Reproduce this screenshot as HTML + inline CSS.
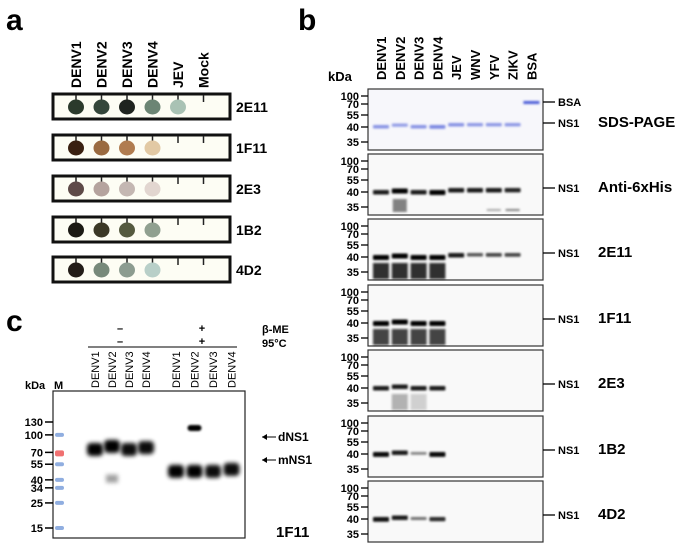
<!DOCTYPE html>
<html><head><meta charset="utf-8"><style>
body{margin:0;background:#fff}
svg{display:block;font-family:"Liberation Sans",sans-serif}
</style></head><body>
<svg id="fig" width="685" height="544" viewBox="0 0 685 544">
<defs>
<filter id="bl" x="-50%" y="-200%" width="200%" height="500%"><feGaussianBlur stdDeviation="1.1"/></filter>
<filter id="bl2" x="-50%" y="-100%" width="200%" height="300%"><feGaussianBlur stdDeviation="2"/></filter>
</defs>
<g id="pa"></g>
<g id="pb"></g>
<g id="pc"></g>
</svg>
<script>
const NS='http://www.w3.org/2000/svg';
function el(p,t,a,txt){const e=document.createElementNS(NS,t);for(const k in a)e.setAttribute(k,a[k]);if(txt!=null)e.textContent=txt;p.appendChild(e);return e;}
// ---- data ----
const dotLanes=['DENV1','DENV2','DENV3','DENV4','JEV','Mock'];
const dotAbs=['2E11','1F11','2E3','1B2','4D2'];
const dotColors=[
 ['#2b3a2c','#34463a','#1f241f','#6c8574','#a9c2b4',null],
 ['#3a2010','#9a6a40','#b07c50','#e2c9a4',null,null],
 ['#5e4a48','#b5a39e','#c4b7b2','#e2d6d0',null,null],
 ['#1c1a14','#3b3826','#555a40','#90a090',null,null],
 ['#231d18','#77897a','#8c9c90','#b8cfc8',null,null]];
const gelLanes=['DENV1','DENV2','DENV3','DENV4','JEV','WNV','YFV','ZIKV','BSA'];
const gelPanels=['SDS-PAGE','Anti-6xHis','2E11','1F11','2E3','1B2','4D2'];
const kdaTicks=['100','70','55','40','35'];
const ns1=[
 [0.5,0.4,0.5,0.6,0.5,0.45,0.45,0.45,0],
 [0.85,1,0.85,1,0.85,0.85,0.85,0.8,0],
 [1,1,1,1,0.85,0.5,0.6,0.6,0],
 [1,1,1,1,0,0,0,0,0],
 [0.85,0.85,0.85,0.85,0,0,0,0,0],
 [0.95,0.85,0.25,0.95,0,0,0,0,0],
 [0.9,0.85,0.35,0.75,0,0,0,0,0]];
const smear=[
 [0,0,0,0,0,0,0,0,0],
 [0,0.6,0,0,0,0,0.4,0.6,0],
 [1,1,1,1,0,0,0,0,0],
 [0.9,0.9,0.9,0.9,0,0,0,0,0],
 [0,0.35,0.2,0,0,0,0,0,0],
 [0,0,0,0,0,0,0,0,0],
 [0,0,0,0,0,0,0,0,0]];
const cLanes=['DENV1','DENV2','DENV3','DENV4','DENV1','DENV2','DENV3','DENV4'];
const cMarkers=['130','100','70','55','40','34','25','15'];
const cMarkerKda=[130,100,70,55,40,34,25,15];
const cBandKda=[75,80,75,78,48,48,48,50];
const cBandInt=[1,1,0.95,0.95,1,1,0.95,0.95];

// ---- panel a ----
const pa=document.getElementById('pa');
let t=el(pa,'text',{x:6,y:30,'font-size':30,'font-weight':'bold'},'a');

const ax=i=>76+i*25.5;
dotLanes.forEach((n,i)=>{const tt=el(pa,'text',{transform:`translate(${ax(i)+5},88) rotate(-90)`,'font-size':14,'font-weight':'bold'},n);
 });
const rowY=[94,135,176,217,257];
dotAbs.forEach((ab,r)=>{
 const g=el(pa,'g',{});
 el(g,'rect',{x:53,y:rowY[r],width:177,height:25,fill:'#fdfdf4',stroke:'#111','stroke-width':3});
 dotColors[r].forEach((c,i)=>{
  el(g,'line',{x1:ax(i),y1:rowY[r]+1,x2:ax(i),y2:rowY[r]+8,stroke:'#222','stroke-width':1.5});
  if(c)el(g,'ellipse',{cx:ax(i),cy:rowY[r]+13,rx:8,ry:7.5,fill:c});
 });
 const l=el(pa,'text',{x:236,y:rowY[r]+18,'font-size':14,'font-weight':'bold'},ab);
 
});

// ---- panel b ----
const pb=document.getElementById('pb');
t=el(pb,'text',{x:298,y:30,'font-size':30,'font-weight':'bold'},'b');

t=el(pb,'text',{x:328,y:81,'font-size':13,'font-weight':'bold'},'kDa');

const bx=i=>381+i*18.8;
gelLanes.forEach((n,i)=>{const tt=el(pb,'text',{transform:`translate(${bx(i)+5},80) rotate(-90)`,'font-size':13,'font-weight':'bold'},n);
 });
const pTop=[89,154,219,285,350,416,481];
const tickOff=[7,15,26,38,53];
gelPanels.forEach((p,k)=>{
 const y0=pTop[k];
 const g=el(pb,'g',{});
 el(g,'rect',{x:368,y:y0,width:175,height:61,fill:k==0?'#f7f7fb':'#f9f9f9',stroke:'#333','stroke-width':1.2});
 kdaTicks.forEach((kd,j)=>{
  el(g,'line',{x1:361,y1:y0+tickOff[j],x2:368,y2:y0+tickOff[j],stroke:'#000','stroke-width':1.3});
  el(g,'text',{x:359,y:y0+tickOff[j]+4,'font-size':11,'font-weight':'bold','text-anchor':'end'},kd);
 });
 const col=k==0?'#4d5fd8':'#000';
 gelLanes.forEach((n,i)=>{
  const v=ns1[k][i];
  if(v>0){const yo=(i>=4&&i<8)?-2:(i==1?-1.5:0);
   const b=el(g,'rect',{x:bx(i)-8,y:y0+36+yo,width:16,height:2+v*3,rx:1,fill:col,opacity:Math.min(1,0.3+v*0.7),filter:'url(#bl)'});
   }
  const s=smear[k][i];
  if(s>0){
   if(k==1){el(g,'rect',{x:bx(i)-7,y:y0+(i==1?45:55),width:14,height:i==1?13:2,fill:'#333',opacity:s,filter:'url(#bl)'});}
   else{const b=el(g,'rect',{x:bx(i)-8,y:y0+44,width:16,height:16,fill:'#111',opacity:s*0.85,filter:'url(#bl)'});
    }
  }
 });
 if(k==0){el(g,'rect',{x:bx(8)-8,y:y0+12,width:16,height:3,fill:col,filter:'url(#bl)'});
  el(g,'line',{x1:543,y1:y0+13,x2:555,y2:y0+13,stroke:'#000','stroke-width':1.3});
  el(g,'text',{x:558,y:y0+17,'font-size':11,'font-weight':'bold'},'BSA');}
 el(g,'line',{x1:543,y1:y0+34,x2:555,y2:y0+34,stroke:'#000','stroke-width':1.3});
 el(g,'text',{x:558,y:y0+38,'font-size':11,'font-weight':'bold'},'NS1');
 const l=el(pb,'text',{x:598,y:y0+38,'font-size':15,'font-weight':'bold'},p);
 
});

// ---- panel c ----
const pc=document.getElementById('pc');
t=el(pc,'text',{x:6,y:331,'font-size':30,'font-weight':'bold'},'c');

const cx=i=>(i<4?95+i*17:176+(i-4)*18.5);
cLanes.forEach((n,i)=>{const tt=el(pc,'text',{transform:`translate(${cx(i)+4},388) rotate(-90)`,'font-size':11},n);
 });
el(pc,'line',{x1:88,y1:347,x2:237,y2:347,stroke:'#000','stroke-width':1});
[['–',120,332],['–',120,345],['+',202,332],['+',202,345]].forEach(a=>el(pc,'text',{x:a[1],y:a[2],'font-size':11,'font-weight':'bold','text-anchor':'middle'},a[0]));
el(pc,'text',{x:262,y:333,'font-size':11,'font-weight':'bold'},'β-ME');
el(pc,'text',{x:262,y:347,'font-size':11,'font-weight':'bold'},'95°C');
el(pc,'text',{x:25,y:389,'font-size':11,'font-weight':'bold'},'kDa');
el(pc,'text',{x:54,y:389,'font-size':11,'font-weight':'bold'},'M');
const box=el(pc,'rect',{x:53,y:391,width:192,height:147,fill:'#fff',stroke:'#222','stroke-width':1.2});

const ky=kd=>528+(Math.log(15)-Math.log(kd))*(528-422)/(Math.log(130)-Math.log(15));
cMarkers.forEach((m,j)=>{const y=ky(cMarkerKda[j]);
 el(pc,'line',{x1:45,y1:y,x2:53,y2:y,stroke:'#000','stroke-width':1.5});
 el(pc,'text',{x:43,y:y+4,'font-size':11,'font-weight':'bold','text-anchor':'end'},m);
 if(j>0){const mk=el(pc,'rect',{x:55,y:y-2,width:9,height:j==2?6:4,rx:2,fill:j==2?'#f07070':'#90aee0'});
  }
});
cLanes.forEach((n,i)=>{const y=ky(cBandKda[i]);
 const b=el(pc,'rect',{x:cx(i)-8,y:y-6,width:16,height:13,rx:4,fill:'#000',opacity:cBandInt[i],filter:'url(#bl2)'});
 });
el(pc,'rect',{x:cx(5)-7,y:ky(115)-3,width:14,height:6,rx:3,fill:'#000',filter:'url(#bl)'});
el(pc,'rect',{x:cx(1)-6,y:ky(41)-4,width:12,height:8,fill:'#777',opacity:0.7,filter:'url(#bl2)'});
[['dNS1',437],['mNS1',460]].forEach(a=>{
 el(pc,'line',{x1:262,y1:a[1],x2:276,y2:a[1],stroke:'#000','stroke-width':1});
 el(pc,'path',{d:`M262 ${a[1]} l5 -3 v6 z`,fill:'#000'});
 el(pc,'text',{x:278,y:a[1]+4,'font-size':12,'font-weight':'bold'},a[0]);});
t=el(pc,'text',{x:276,y:537,'font-size':15,'font-weight':'bold'},'1F11');

</script>
</body></html>
